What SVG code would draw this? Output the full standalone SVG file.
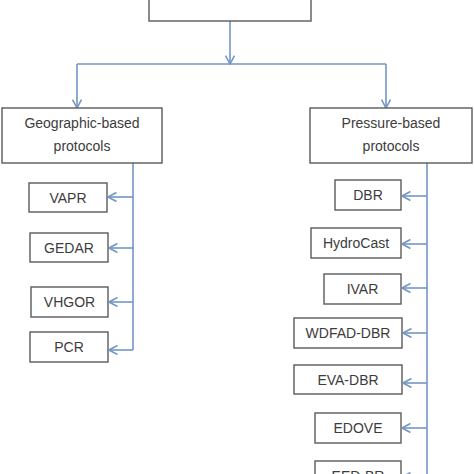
<svg xmlns="http://www.w3.org/2000/svg" width="474" height="474" viewBox="0 0 474 474">
<defs>
<style>
.box rect{fill:#fff;stroke:#5a5a5a;stroke-width:1.4}
.box text{font-family:"Liberation Sans",Arial,sans-serif;font-size:14px;fill:#3c3c3c;text-anchor:middle}
.conn path{fill:none;stroke:#7396c4;stroke-width:1.6}
</style>
<marker id="ah" viewBox="0 0 10 10" refX="9.5" refY="5" markerWidth="10" markerHeight="10" markerUnits="userSpaceOnUse" orient="auto">
<path d="M1,0.5 L9.5,5 L1,9.5" fill="none" stroke="#7396c4" stroke-width="1.6"/>
</marker>
</defs>
<rect width="474" height="474" fill="#fff"/>
<g class="conn">
<path d="M230,21 V64" marker-end="url(#ah)"/>
<path d="M77,64 H386"/>
<path d="M77,64 V108" marker-end="url(#ah)"/>
<path d="M386,64 V108" marker-end="url(#ah)"/>
<path d="M133,163 V350"/>
<path d="M133,197 H108" marker-end="url(#ah)"/>
<path d="M133,248 H109" marker-end="url(#ah)"/>
<path d="M133,302 H109" marker-end="url(#ah)"/>
<path d="M133,350 H109" marker-end="url(#ah)"/>
<path d="M427,163 V474"/>
<path d="M427,196 H402" marker-end="url(#ah)"/>
<path d="M427,244 H402" marker-end="url(#ah)"/>
<path d="M427,288 H402" marker-end="url(#ah)"/>
<path d="M427,333 H403" marker-end="url(#ah)"/>
<path d="M427,383 H403" marker-end="url(#ah)"/>
<path d="M427,428 H402" marker-end="url(#ah)"/>
<path d="M427,477 H402" marker-end="url(#ah)"/>
</g>
<g id="root" class="box"><rect x="149" y="-12" width="162" height="33"/></g>
<g id="geo" class="box"><rect x="2" y="108" width="160" height="55"/><text x="82" y="128">Geographic-based</text><text x="82" y="151">protocols</text></g>
<g id="pres" class="box"><rect x="310" y="108" width="162" height="55"/><text x="391" y="128">Pressure-based</text><text x="391" y="151">protocols</text></g>
<g id="vapr" class="box"><rect x="29" y="183" width="78" height="29"/><text x="68" y="202.5">VAPR</text></g>
<g id="gedar" class="box"><rect x="30" y="233" width="78" height="29"/><text x="69" y="252.5">GEDAR</text></g>
<g id="vhgor" class="box"><rect x="31" y="287" width="77" height="30"/><text x="69.5" y="307">VHGOR</text></g>
<g id="pcr" class="box"><rect x="30" y="332" width="78" height="30"/><text x="69" y="352">PCR</text></g>
<g id="dbr" class="box"><rect x="335" y="180" width="66" height="30"/><text x="368" y="200">DBR</text></g>
<g id="hydrocast" class="box"><rect x="311" y="228" width="90" height="30"/><text x="356" y="248">HydroCast</text></g>
<g id="ivar" class="box"><rect x="324" y="274" width="77" height="30"/><text x="362.5" y="294">IVAR</text></g>
<g id="wdfad" class="box"><rect x="294" y="318" width="108" height="30"/><text x="348" y="338">WDFAD-DBR</text></g>
<g id="evadbr" class="box"><rect x="294" y="365" width="108" height="29"/><text x="348" y="384.5">EVA-DBR</text></g>
<g id="edove" class="box"><rect x="315" y="413" width="86" height="30"/><text x="358" y="433">EDOVE</text></g>
<g id="last" class="box"><rect x="315" y="461" width="86" height="30"/><text x="358" y="481">EED-BR</text></g>
</svg>
